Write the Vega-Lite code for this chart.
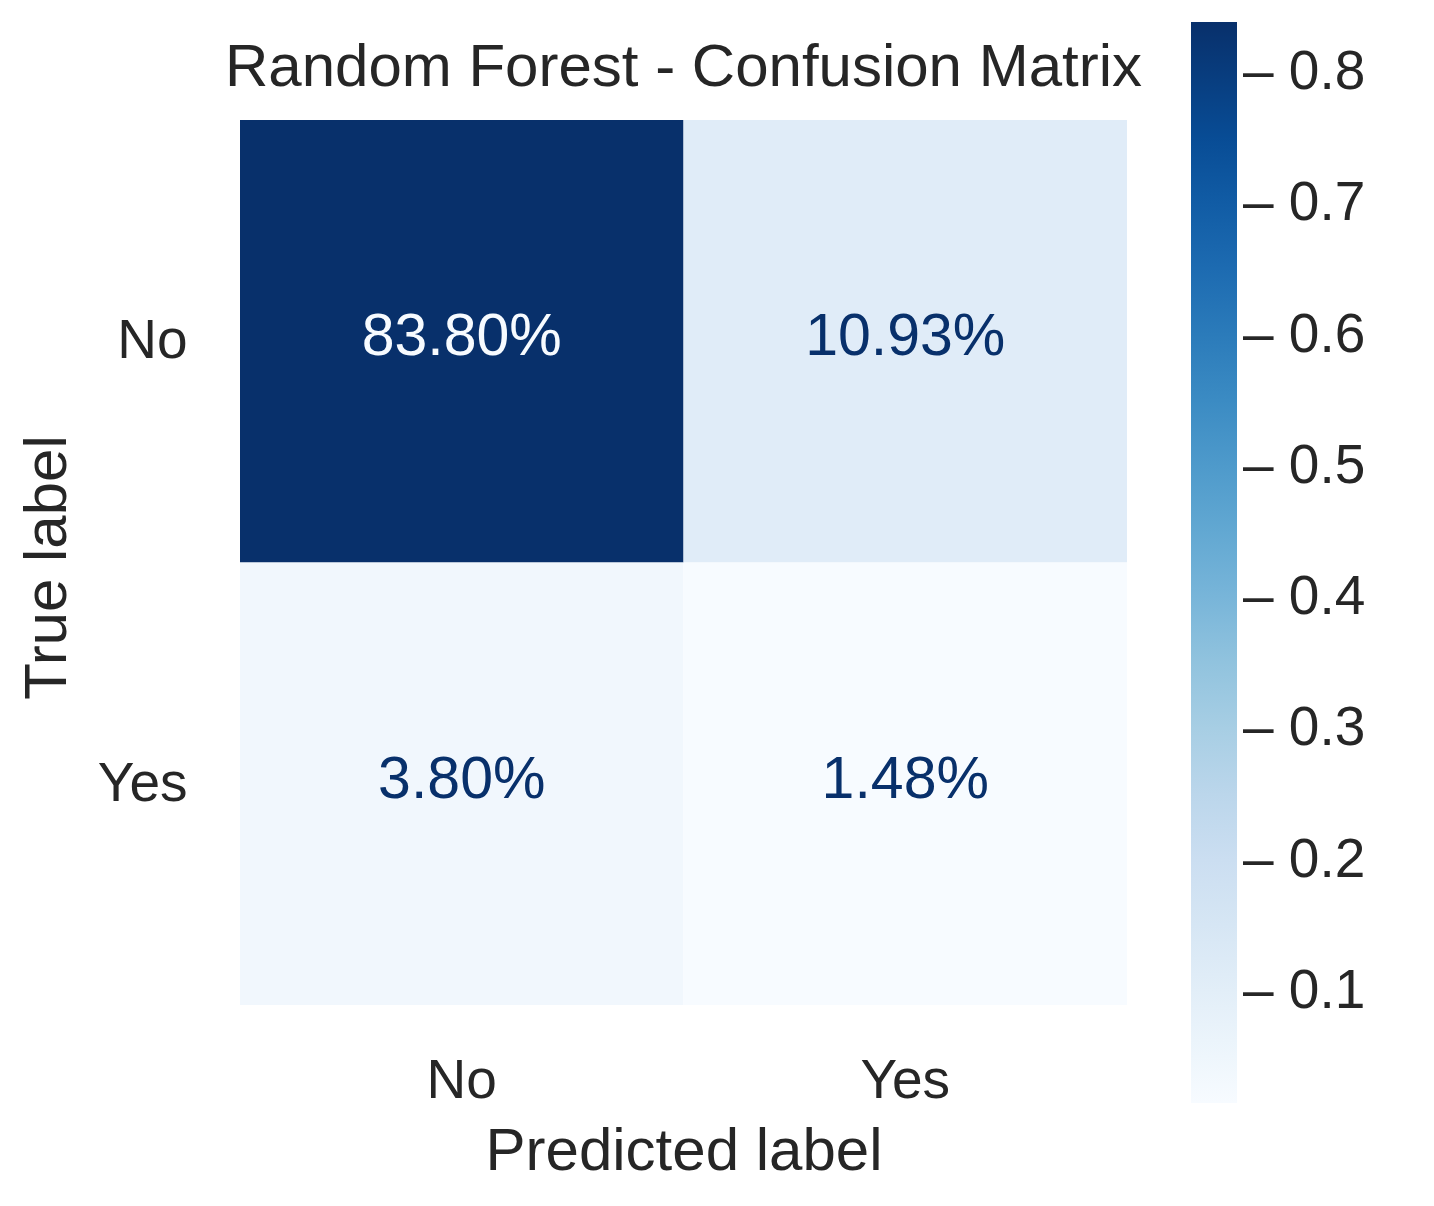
{
  "$schema": "https://vega.github.io/schema/vega-lite/v6.json",
  "width": 887,
  "height": 885,
  "autosize": {"type": "none"},
  "padding": {"left": 240, "top": 120, "right": 307, "bottom": 201},
  "background": "white",
  "config": {"view": {"stroke": null}, "font": "Liberation Sans"},
  "title": {
    "text": "Random Forest - Confusion Matrix",
    "fontSize": 60,
    "font": "Liberation Sans",
    "fontWeight": "normal",
    "color": "#262626",
    "anchor": "middle",
    "frame": "group",
    "baseline": "alphabetic",
    "offset": 33,
    "dy": 157
  },
  "data": {
    "values": [
      {"true": "No", "pred": "No", "value": 0.838},
      {"true": "No", "pred": "Yes", "value": 0.1093},
      {"true": "Yes", "pred": "No", "value": 0.038},
      {"true": "Yes", "pred": "Yes", "value": 0.0148}
    ]
  },
  "encoding": {
    "x": {
      "field": "pred",
      "type": "nominal",
      "sort": ["No", "Yes"],
      "scale": {"paddingInner": 0, "paddingOuter": 0},
      "axis": {
        "title": "Predicted label",
        "labelAngle": 0,
        "ticks": false,
        "tickSize": 0,
        "domain": false,
        "labelFont": "Liberation Sans",
        "labelFontSize": 55,
        "labelColor": "#262626",
        "labelPadding": 92,
        "labelBaseline": "alphabetic",
        "titleFont": "Liberation Sans",
        "titleFontSize": 60,
        "titleFontWeight": "normal",
        "titleColor": "#262626",
        "titleBaseline": "alphabetic",
        "titleY": 164
      }
    },
    "y": {
      "field": "true",
      "type": "nominal",
      "sort": ["No", "Yes"],
      "scale": {"paddingInner": 0, "paddingOuter": 0},
      "axis": {
        "title": "True label",
        "ticks": false,
        "tickSize": 0,
        "domain": false,
        "labelFont": "Liberation Sans",
        "labelFontSize": 55,
        "labelColor": "#262626",
        "labelPadding": 53,
        "titleFont": "Liberation Sans",
        "titleFontSize": 60,
        "titleFontWeight": "normal",
        "titleColor": "#262626",
        "titleAngle": -90,
        "titleAlign": "center",
        "titleBaseline": "alphabetic",
        "titleX": -175,
        "titleY": 447
      }
    }
  },
  "layer": [
    {
      "mark": {"type": "rect"},
      "encoding": {
        "color": {
          "field": "value",
          "type": "quantitative",
          "scale": {
            "domain": [0.0148, 0.1177, 0.2206, 0.3235, 0.4264, 0.5293, 0.6322, 0.7351, 0.838],
            "range": ["#f7fbff", "#deebf7", "#c6dbef", "#9ecae1", "#6baed6", "#4292c6", "#2171b5", "#08519c", "#08306b"],
            "interpolate": "rgb"
          },
          "legend": {
            "orient": "none",
            "legendX": 951,
            "legendY": -98,
            "title": null,
            "padding": 0,
            "direction": "vertical",
            "gradientLength": 1081,
            "gradientThickness": 46,
            "gradientStrokeWidth": 0,
            "values": [0.1, 0.2, 0.3, 0.4, 0.5, 0.6, 0.7, 0.8],
            "format": ".1f",
            "labelExpr": "'– ' + datum.label",
            "labelFont": "Liberation Sans",
            "labelFontSize": 55,
            "labelColor": "#262626",
            "labelOffset": 6,
            "labelOverlap": false,
            "labelLimit": 400
          }
        }
      }
    },
    {
      "mark": {"type": "text", "fontSize": 59, "font": "Liberation Sans", "baseline": "middle", "dy": -4},
      "encoding": {
        "text": {"field": "value", "type": "quantitative", "format": ".2%"},
        "color": {
          "condition": {"test": "datum.value > 0.43", "value": "#f7fbff"},
          "value": "#08306b"
        }
      }
    }
  ]
}
